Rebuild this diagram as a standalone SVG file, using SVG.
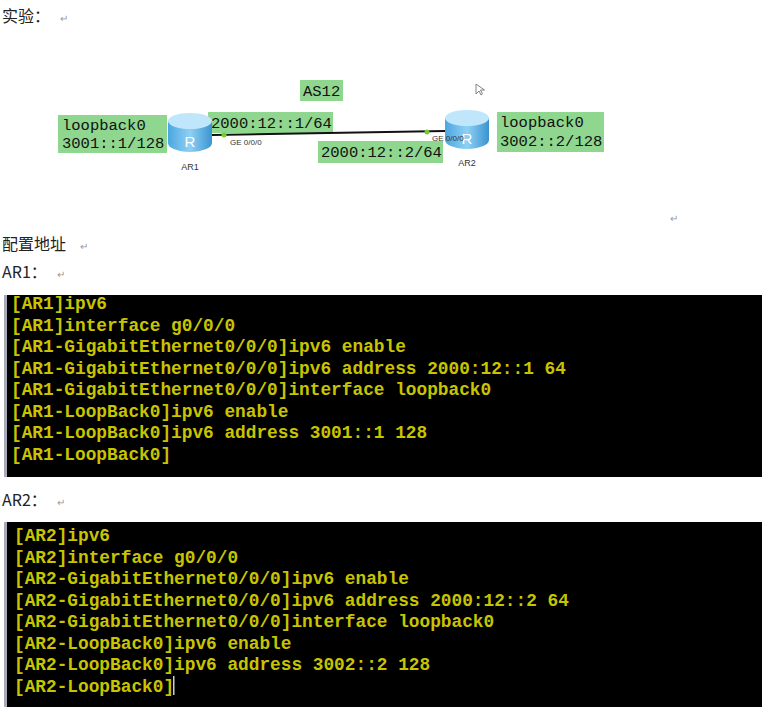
<svg xmlns="http://www.w3.org/2000/svg" width="762" height="707" viewBox="0 0 762 707">
<defs>
<style>
.h{font-family:"Noto Sans CJK SC","Liberation Sans",sans-serif;font-size:16px;fill:#222}
.mk{font-family:"Liberation Sans",sans-serif;font-size:10px;fill:#999}
.lb{fill:#8fd68f}
.lt{font-family:"Liberation Mono",monospace;font-size:15.5px;fill:#111}
.sm{font-family:"Liberation Sans",sans-serif;font-size:8px;fill:#333}
.tm{font-family:"Liberation Mono",monospace;font-size:17.8px;font-weight:bold;fill:#c8c400}
</style>
<linearGradient id="rg" x1="0" x2="1"><stop offset="0" stop-color="#4aa7e0"/><stop offset="0.5" stop-color="#8fd0f5"/><stop offset="1" stop-color="#3a94d0"/></linearGradient>
</defs>
<rect width="762" height="707" fill="#fff"/>
<text class="h" x="2" y="22">实验：</text><text class="mk" x="60" y="22">↵</text>
<text class="h" x="2" y="250">配置地址</text><text class="mk" x="80" y="250">↵</text>
<text class="h" x="2" y="278">AR1：</text><text class="mk" x="57" y="278">↵</text>
<text class="h" x="2" y="506">AR2：</text><text class="mk" x="57" y="506">↵</text>
<text class="mk" x="670" y="222">↵</text>
<g id="as12"><rect class="lb" x="300" y="80" width="43" height="21"/><text class="lt" x="303" y="96">AS12</text></g>
<g id="lb1"><rect class="lb" x="58" y="115" width="109" height="38"/><text class="lt" x="62" y="130">loopback0</text><text class="lt" x="62" y="148">3001::1/128</text></g>
<g id="lb2"><rect class="lb" x="497" y="112" width="107" height="40"/><text class="lt" x="500" y="127">loopback0</text><text class="lt" x="500" y="146">3002::2/128</text></g>
<g id="ip1"><rect class="lb" x="208" y="112" width="125" height="21"/><text class="lt" x="211" y="128">2000:12::1/64</text></g>
<g id="ip2"><rect class="lb" x="318" y="141" width="125" height="22"/><text class="lt" x="321" y="157">2000:12::2/64</text></g>
<g id="AR1">
<path d="M168 121 v22 a22 9 0 0 0 44 0 v-22 z" fill="url(#rg)"/>
<ellipse cx="190" cy="121" rx="22" ry="8" fill="#bfe6fb"/>
<text x="190" y="147" font-family="Liberation Sans,sans-serif" font-size="15" fill="#fff" text-anchor="middle">R</text>
<text x="190" y="170" font-family="Liberation Sans,sans-serif" font-size="9" fill="#333" text-anchor="middle">AR1</text>
</g>
<g id="AR2">
<path d="M445 118 v22 a22 9 0 0 0 44 0 v-22 z" fill="url(#rg)"/>
<ellipse cx="467" cy="118" rx="22" ry="8" fill="#bfe6fb"/>
<text x="467" y="144" font-family="Liberation Sans,sans-serif" font-size="15" fill="#fff" text-anchor="middle">R</text>
<text x="467" y="166" font-family="Liberation Sans,sans-serif" font-size="9" fill="#333" text-anchor="middle">AR2</text>
</g>
<g id="connectors">
<line x1="212" y1="135" x2="445" y2="131" stroke="#111" stroke-width="2"/>
<circle cx="224" cy="135" r="2.5" fill="#7c3"/>
<circle cx="427" cy="132" r="2.5" fill="#7c3"/>
<text class="sm" x="230" y="145">GE 0/0/0</text>
<text class="sm" x="432" y="141">GE 0/0/0</text>
</g>
<path d="M476 84 v10 l3-3 l2 4 l1.5-1 l-2-4 h4 z" fill="#fff" stroke="#666" stroke-width="0.8"/>
<g id="term1">
<rect x="4" y="295" width="758" height="182" fill="#000"/>
<rect x="4" y="295" width="3" height="182" fill="#aab"/>
<text class="tm" x="11" y="309">[AR1]ipv6</text>
<text class="tm" x="11" y="330.5">[AR1]interface g0/0/0</text>
<text class="tm" x="11" y="352">[AR1-GigabitEthernet0/0/0]ipv6 enable</text>
<text class="tm" x="11" y="373.5">[AR1-GigabitEthernet0/0/0]ipv6 address 2000:12::1 64</text>
<text class="tm" x="11" y="395">[AR1-GigabitEthernet0/0/0]interface loopback0</text>
<text class="tm" x="11" y="416.5">[AR1-LoopBack0]ipv6 enable</text>
<text class="tm" x="11" y="438">[AR1-LoopBack0]ipv6 address 3001::1 128</text>
<text class="tm" x="11" y="459.5">[AR1-LoopBack0]</text>
</g>
<g id="term2">
<rect x="4" y="522" width="758" height="185" fill="#000"/>
<rect x="4" y="522" width="3" height="185" fill="#aab"/>
<text class="tm" x="14" y="541">[AR2]ipv6</text>
<text class="tm" x="14" y="562.5">[AR2]interface g0/0/0</text>
<text class="tm" x="14" y="584">[AR2-GigabitEthernet0/0/0]ipv6 enable</text>
<text class="tm" x="14" y="605.5">[AR2-GigabitEthernet0/0/0]ipv6 address 2000:12::2 64</text>
<text class="tm" x="14" y="627">[AR2-GigabitEthernet0/0/0]interface loopback0</text>
<text class="tm" x="14" y="648.5">[AR2-LoopBack0]ipv6 enable</text>
<text class="tm" x="14" y="670">[AR2-LoopBack0]ipv6 address 3002::2 128</text>
<text class="tm" x="14" y="691.5">[AR2-LoopBack0]</text>
<rect x="173" y="676" width="1.5" height="19" fill="#ccc"/>
</g>
</svg>
